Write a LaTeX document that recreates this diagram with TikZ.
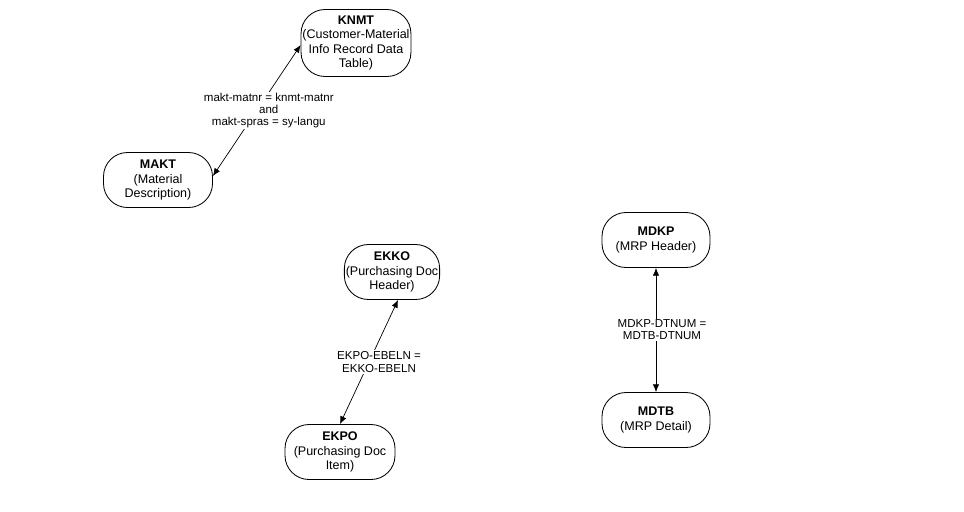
\documentclass[tikz,border=0pt]{standalone}
\usepackage{fontspec}
\setmainfont{Liberation Sans}
\usetikzlibrary{arrows.meta}
\begin{document}
\begin{tikzpicture}[
	tablebox/.style = {draw, line width = 0.6pt, rounded corners = 0.6cm, align = center, inner sep = 1pt, font = \fontsize{8.9}{10.3}\selectfont},
	relation/.style = {line width = 0.5pt, {Latex[length=5.5pt,width=4.5pt]}-{Latex[length=5.5pt,width=4.5pt]}},
	cond/.style = {fill = white, align = center, inner sep = 1pt, font = \fontsize{8.2}{8.6}\selectfont}]
		\useasboundingbox (0,0) rectangle (24.1,-12.775);
		\node [tablebox, minimum width = 2.7cm, minimum height = 1.675cm](knmt) at (8.9,-1.075) {\textbf{KNMT}\\(Customer-Material\\Info Record Data\\Table)};
		\node [tablebox, minimum width = 2.725cm, minimum height = 1.375cm](makt) at (3.95,-4.5) {\textbf{MAKT}\\(Material\\Description)};
		\node [tablebox, minimum width = 2.375cm, minimum height = 1.375cm](ekko) at (9.8,-6.8) {\textbf{EKKO}\\(Purchasing Doc\\Header)};
		\node [tablebox, minimum width = 2.75cm, minimum height = 1.375cm](ekpo) at (8.5,-11.3) {\textbf{EKPO}\\(Purchasing Doc\\Item)};
		\node [tablebox, minimum width = 2.7cm, minimum height = 1.375cm](mdkp) at (16.4,-6.0) {\textbf{MDKP}\\(MRP Header)};
		\node [tablebox, minimum width = 2.7cm, minimum height = 1.375cm](mdtb) at (16.4,-10.5) {\textbf{MDTB}\\(MRP Detail)};
		\draw [relation] ([yshift=0.1cm]makt.east) -- node [cond, xshift = 0.3cm] {makt-matnr = knmt-matnr\\and\\makt-spras = sy-langu} ([yshift=-0.05cm]knmt.west);
		\draw [relation] (ekpo.north) -- node [cond, xshift = 0.25cm] {EKPO-EBELN =\\EKKO-EBELN} ([xshift=0.15cm]ekko.south);
		\draw [relation] (mdtb.north) -- node [cond, xshift = 0.15cm] {MDKP-DTNUM =\\MDTB-DTNUM} (mdkp.south);
\end{tikzpicture}
\end{document}
